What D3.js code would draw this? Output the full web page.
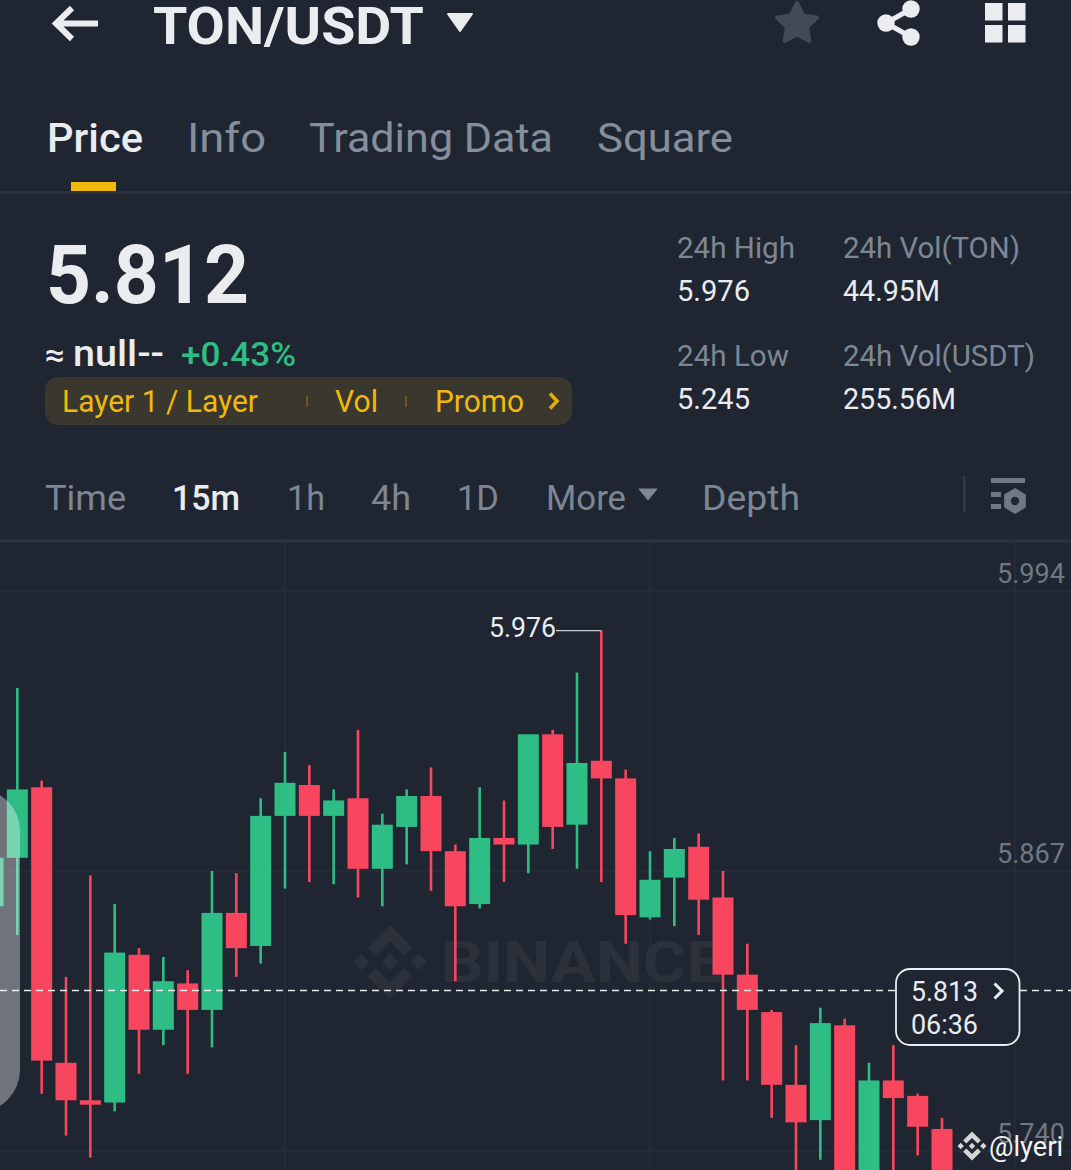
<!DOCTYPE html>
<html><head><meta charset="utf-8">
<script src="https://cdn.jsdelivr.net/npm/d3@7"></script>
<style>html,body{margin:0;padding:0;background:#1f2631;overflow:hidden}svg{display:block}text{font-family:Roboto,sans-serif}</style>
</head><body><svg id="c" width="1071" height="1170"></svg>
<script>
// ---- chart data (prices) ----
const candleIndex = d3.range(-1, 39);
const opens  = [5.851,5.873,5.905,5.780,5.763,5.762,5.829,5.795,5.816,5.804,5.848,5.833,5.892,5.906,5.892,5.900,5.868,5.887,5.901,5.876,5.852,5.882,5.879,5.929,5.888,5.917,5.909,5.846,5.864,5.878,5.855,5.820,5.803,5.770,5.754,5.797,5.720,5.772,5.765,5.750];
const highs  = [5.880,5.950,5.908,5.819,5.865,5.852,5.832,5.828,5.822,5.867,5.866,5.900,5.921,5.915,5.904,5.931,5.893,5.904,5.914,5.879,5.905,5.899,5.929,5.931,5.957,5.976,5.913,5.876,5.882,5.884,5.867,5.834,5.804,5.788,5.805,5.800,5.780,5.788,5.766,5.755];
const lows   = [5.845,5.838,5.766,5.747,5.737,5.758,5.775,5.788,5.775,5.787,5.819,5.825,5.859,5.862,5.861,5.855,5.851,5.870,5.858,5.817,5.850,5.862,5.866,5.877,5.868,5.862,5.834,5.845,5.842,5.838,5.772,5.772,5.755,5.720,5.736,5.715,5.715,5.725,5.738,5.720];
const closes = [5.873,5.904,5.781,5.763,5.761,5.830,5.795,5.817,5.804,5.848,5.832,5.892,5.907,5.892,5.899,5.868,5.888,5.901,5.876,5.851,5.882,5.879,5.929,5.887,5.916,5.909,5.847,5.863,5.877,5.854,5.820,5.804,5.770,5.753,5.798,5.720,5.772,5.764,5.751,5.725];
const priceTicks = [5.994, 5.867, 5.740];
const gridCandles = [11, 26, 41];
const lastPrice = 5.813, countdown = "06:36", periodHigh = 5.976;
const highIndex = 24;
const statLabels = ["24h High","24h Vol(TON)","24h Low","24h Vol(USDT)"];
const statValues = ["5.976","44.95M","5.245","255.56M"];
const tabs = ["Price","Info","Trading Data","Square"];
const intervals = ["Time","15m","1h","4h","1D","More","Depth"];
const tags = ["Layer 1 / Layer","Vol","Promo"];

// ---- styles ----
const RED="#f9465f", GREEN="#2ebd85", WHITE="#eaecef", GRAY="#848e9c", AXIS="#6f7885", LINE="#2b323e", GRID="#272e39", YEL="#f0b90b";
const svg = d3.select("#c");
svg.append("rect").attr("width",1071).attr("height",1170).attr("fill","#1f2631");

const x = d3.scaleLinear().domain([-1,41]).range([-7,1015]);
const y = d3.scaleLinear().domain([5.994,5.740]).range([591,1151]);
const bodyW = 21, wickW = 2.6;

function T(g,s,xp,base,size,fill,width,weight){
  const t=g.append("text").attr("x",xp).attr("y",base).attr("font-size",size).attr("fill",fill).attr("font-weight",weight||400).text(s);
  if(width) t.attr("textLength",width).attr("lengthAdjust","spacingAndGlyphs");
  return t;
}
function binanceLogo(g,cx,cy,r,fill){
  const polys=[
    [[0,-1],[.61,-.39],[.39,-.17],[0,-.56],[-.39,-.17],[-.61,-.39]],
    [[0,1],[.61,.39],[.39,.17],[0,.56],[-.39,.17],[-.61,.39]],
    [[0,-.22],[.22,0],[0,.22],[-.22,0]],
    [[-.78,-.22],[-.56,0],[-.78,.22],[-1,0]],
    [[.78,-.22],[1,0],[.78,.22],[.56,0]]];
  const lg=d3.line().x(d=>cx+d[0]*r).y(d=>cy+d[1]*r);
  g.append("g").selectAll("path").data(polys).join("path").attr("d",d=>lg(d)+"Z").attr("fill",fill);
}

// ---- chart background ----
const chart = svg.append("g");
const gridG = chart.append("g");
gridG.selectAll("line.v").data(gridCandles).join("line").attr("class","v")
  .attr("x1",d=>x(d)).attr("x2",d=>x(d)).attr("y1",542).attr("y2",1170).attr("stroke",GRID).attr("stroke-width",1.5);
gridG.selectAll("line.h").data(priceTicks).join("line").attr("class","h")
  .attr("x1",0).attr("x2",1071).attr("y1",d=>y(d)).attr("y2",d=>y(d)).attr("stroke",GRID).attr("stroke-width",1.5);

// watermark
binanceLogo(chart,390,962,37,"#2c303b");
T(chart,"BINANCE",441,982,58,"#2c303b",283,700);

// axis labels
const axis = chart.append("g").attr("transform","translate(1065,0)")
  .call(d3.axisLeft(y).tickValues(priceTicks).tickFormat(d3.format(".3f")).tickSize(0).tickPadding(0));
axis.select(".domain").remove();
axis.selectAll("text").attr("font-size",28).attr("fill",AXIS).attr("font-family","Roboto,sans-serif").attr("dy",-9)
  .attr("dominant-baseline","auto").attr("textLength",68).attr("lengthAdjust","spacingAndGlyphs");

// ---- candles ----
const rows = candleIndex.map((c,i)=>({c,o:opens[i],h:highs[i],l:lows[i],cl:closes[i]}));
const col = d=>d.cl>=d.o?GREEN:RED;
const cg = chart.append("g");
cg.selectAll("rect.w").data(rows).join("rect").attr("class","w")
  .attr("x",d=>x(d.c)-wickW/2).attr("width",wickW)
  .attr("y",d=>y(d.h)).attr("height",d=>y(d.l)-y(d.h)).attr("fill",col);
cg.selectAll("rect.b").data(rows).join("rect").attr("class","b")
  .attr("x",d=>x(d.c)-bodyW/2).attr("width",bodyW)
  .attr("y",d=>y(Math.max(d.o,d.cl))).attr("height",d=>Math.max(2.4,y(Math.min(d.o,d.cl))-y(Math.max(d.o,d.cl)))).attr("fill",col);

// high marker
const hx=x(highIndex), hy=y(periodHigh);
chart.append("line").attr("x1",556).attr("x2",hx).attr("y1",hy).attr("y2",hy).attr("stroke","#c9ccd1").attr("stroke-width",1.2);
T(chart,d3.format(".3f")(periodHigh),489,637,28,WHITE,67);

// translucent side handle
svg.append("rect").attr("x",-70).attr("y",789).attr("width",90).attr("height",323).attr("rx",42).attr("fill","#fff").attr("opacity",.36);

// last price line & box
svg.append("line").attr("x1",0).attr("x2",1071).attr("y1",y(lastPrice)+.4).attr("y2",y(lastPrice)+.4).attr("stroke",WHITE).attr("stroke-width",1.6).attr("stroke-dasharray","7 5");
svg.append("rect").attr("x",896).attr("y",969).attr("width",123.5).attr("height",76).attr("rx",14).attr("fill","#1f2631").attr("stroke",WHITE).attr("stroke-width",1.8);
T(svg,d3.format(".3f")(lastPrice),911,1001,28,WHITE,67);
T(svg,countdown,911,1034,28,WHITE,67);
svg.append("path").attr("d","M994.5,983.5L1002,991L994.5,998.5").attr("fill","none").attr("stroke",WHITE).attr("stroke-width",3);

// bottom-right stamp
binanceLogo(svg,972,1146,14.5,"#d4d5d6");
T(svg,"@lyeri",989,1156,28,"#f3f3f3",74);

// ---- header ----
const hd = svg.append("g");
hd.append("path").attr("d","M98,23.5H58M72,8L56,23.5L72,39").attr("fill","none").attr("stroke",WHITE).attr("stroke-width",6);
T(hd,"TON/USDT",153,44,51,WHITE,271,700);
hd.append("path").attr("d","M448,14H472L460,31Z").attr("fill",WHITE).attr("stroke",WHITE).attr("stroke-width",2).attr("stroke-linejoin","round");
const star=d3.range(10).map(i=>{const a=-Math.PI/2+i*Math.PI/5,r=i%2?10.5:21;return [797+r*Math.cos(a),24+r*Math.sin(a)];});
hd.append("path").attr("d",d3.line()(star)+"Z").attr("fill","#434a57").attr("stroke","#434a57").attr("stroke-width",4).attr("stroke-linejoin","round");
hd.append("path").attr("d","M911,9L886,23L911,37").attr("fill","none").attr("stroke",WHITE).attr("stroke-width",5);
hd.selectAll("circle").data([[911,9],[886,23],[911,37]]).join("circle").attr("cx",d=>d[0]).attr("cy",d=>d[1]).attr("r",8.7).attr("fill",WHITE);
hd.selectAll("rect.sq").data([[985,3],[1008,3],[985,25],[1008,25]]).join("rect").attr("class","sq").attr("x",d=>d[0]).attr("y",d=>d[1]).attr("width",17.5).attr("height",17.5).attr("fill",WHITE);

const tabX=[[47,96],[187,79],[309,244],[597,136]];
tabs.forEach((t,i)=>T(hd,t,tabX[i][0],152,41,i?GRAY:WHITE,tabX[i][1],i?400:500));
hd.append("rect").attr("x",71).attr("y",182).attr("width",45).attr("height",9).attr("fill",YEL);
hd.append("rect").attr("x",0).attr("y",191).attr("width",1071).attr("height",2.5).attr("fill",LINE);

T(hd,"5.812",46,303,82,WHITE,203,700);
T(hd,"≈",45,366,32,WHITE,20,500);
T(hd,"null--",73,366,36,WHITE,91,500);
T(hd,"+0.43%",181,366,34,GREEN,115,500);

hd.append("rect").attr("x",45).attr("y",377).attr("width",527).attr("height",48).attr("rx",13).attr("fill","#3a372f");
const tagX=[[62,196],[335,43],[435,89]];
tags.forEach((t,i)=>T(hd,t,tagX[i][0],412,31,YEL,tagX[i][1]));
hd.selectAll("rect.sep").data([307,406]).join("rect").attr("class","sep").attr("x",d=>d-1).attr("y",396).attr("width",2).attr("height",11).attr("fill","#6a5a20");
hd.append("path").attr("d","M550,393.5L557,401L550,408.5").attr("fill","none").attr("stroke","#e0ac0c").attr("stroke-width",3.6);

const statPos=[[677,258,118],[843,258,177],[677,366,112],[843,366,192]];
statLabels.forEach((t,i)=>T(hd,t,statPos[i][0],statPos[i][1],30,"#7d8694",statPos[i][2]));
const valPos=[[677,301,73],[843,301,97],[677,409,73],[843,409,113]];
statValues.forEach((t,i)=>T(hd,t,valPos[i][0],valPos[i][1],30,WHITE,valPos[i][2]));

const intX=[[45,81],[172,68],[287,38],[371,40],[457,42],[546,80],[702,98]];
intervals.forEach((t,i)=>T(hd,t,intX[i][0],510,35,i===1?WHITE:"#7d8694",intX[i][1],i===1?500:400));
hd.append("path").attr("d","M639,489H657L648,500Z").attr("fill","#7d8694").attr("stroke","#7d8694").attr("stroke-linejoin","round");
hd.append("rect").attr("x",963).attr("y",476).attr("width",2.5).attr("height",36).attr("fill","#333a47");
hd.selectAll("rect.ic").data([[991,478,34,5],[991,492,10,5],[991,504,10,5]]).join("rect").attr("class","ic").attr("x",d=>d[0]).attr("y",d=>d[1]).attr("width",d=>d[2]).attr("height",d=>d[3]).attr("fill",AXIS);
const hex=d3.range(6).map(i=>{const a=-Math.PI/2+i*Math.PI/3;return [1015+12.5*Math.cos(a),501+13*Math.sin(a)];});
hd.append("path").attr("d",d3.line()(hex)+"Z").attr("fill",AXIS);
hd.append("circle").attr("cx",1015).attr("cy",501).attr("r",4.2).attr("fill","#1f2631");
hd.append("rect").attr("x",0).attr("y",539.5).attr("width",1071).attr("height",3).attr("fill",LINE);
</script></body></html>
